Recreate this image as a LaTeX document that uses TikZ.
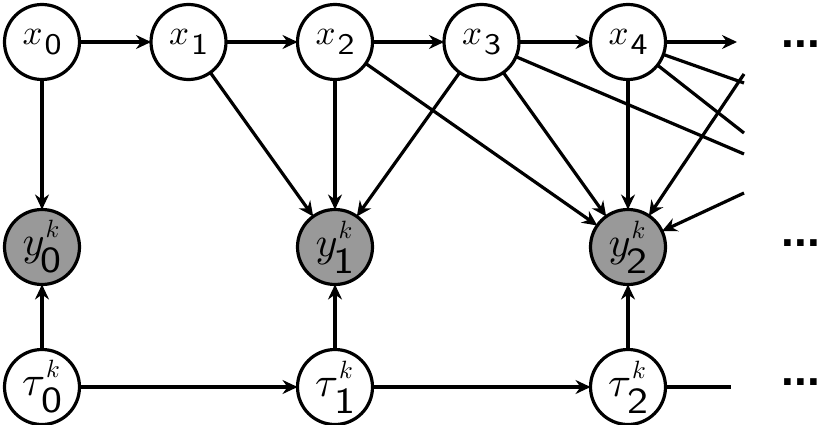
\documentclass[tikz,border=0pt]{standalone}
\usepackage{graphicx}
\usepackage{fontspec}
\usepackage{tikz}
\usetikzlibrary{arrows.meta}
\usetikzlibrary{positioning}
\newfontfamily\dotsfont{Liberation Sans}
\newcommand{\mvar}[2]{\scalebox{#1}{$#2$}}
\newcommand{\dig}[2]{\scalebox{1.2}[1]{\fontsize{#1}{#1}\selectfont\sffamily #2}}
\newcommand{\xsub}[1]{\mvar{3.5}{x}\kern2pt\raisebox{-10pt}{\dig{30}{#1}}}
\newcommand{\ysub}[1]{\mvar{4.2}{y}\rlap{\kern1pt\raisebox{18pt}{\mvar{2.5}{k}}}%
  \kern-4pt\raisebox{-17pt}{\dig{37}{#1}}}
\newcommand{\tsub}[1]{\mvar{4.2}{\tau}\rlap{\kern1pt\raisebox{18pt}{\mvar{2.5}{k}}}%
  \kern-4pt\raisebox{-17pt}{\dig{37}{#1}}}
\tikzset{
  var/.style={circle, draw, fill=white, minimum size=75pt, inner sep=0pt, outer sep=0pt},
  obs/.style={var, fill=black!40},
  more/.style={anchor=base west, inner sep=0pt, font=\dotsfont\bfseries\fontsize{46}{46}\selectfont}
}

\begin{document}
\begin{tikzpicture}[x=1pt, y=1pt, line width=3.2pt,
    >={Stealth[length=15pt, width=14pt, inset=5pt]}]
    \useasboundingbox (0,0) rectangle (818,-425);

      % hidden chain
      \node[var] (x0) at (42,-42) {\xsub{0}};
      \node[var] (x1) [right=71.5pt of x0] {\xsub{1}};
      \node[var] (x2) [right=71.5pt of x1] {\xsub{2}};
      \node[var] (x3) [right=71.5pt of x2] {\xsub{3}};
      \node[var] (x4) [right=71.5pt of x3] {\xsub{4}};

      \node[obs] (y0) [below=130pt of x0] {\ysub{0}};
      \node[obs] (y1) [below=130pt of x2] {\ysub{1}};
      \node[obs] (y2) [below=130pt of x4] {\ysub{2}};

      \node[var] (t0) [below=65pt of y0] {\tsub{0}};
      \node[var] (t1) [below=65pt of y1] {\tsub{1}};
      \node[var] (t2) [below=65pt of y2] {\tsub{2}};

      % loose ends on the right
      \coordinate (xe) at (737,-42);
      \coordinate (te) at (731,-387);
      \coordinate (a1) at (744,-83);
      \coordinate (a2) at (744,-133);
      \coordinate (a3) at (744,-154);
      \coordinate (b1) at (744,-74);
      \coordinate (b2) at (744,-193);

      \node[more] (d0) at (780,-48) {...};
      \node[more] (d1) at (780,-246) {...};
      \node[more] (d2) at (780,-385) {...};

      \draw[->] (x0) -- (x1);
      \draw[->] (x1) -- (x2);
      \draw[->] (x2) -- (x3);
      \draw[->] (x3) -- (x4);
      \draw[->] (x4) -- (xe);

      \draw[->] (x0) -- (y0);
      \draw[->] (x1) -- (y1);
      \draw[->] (x2) -- (y1);
      \draw[->] (x3) -- (y1);
      \draw[->] (x2) -- (y2);
      \draw[->] (x3) -- (y2);
      \draw[->] (x4) -- (y2);
      \draw (x4) -- (a1);
      \draw (x4) -- (a2);
      \draw (x3) -- (a3);
      \draw[->] (b1) -- (y2);
      \draw[->] (b2) -- (y2);

      \draw[->] (t0) -- (y0);
      \draw[->] (t1) -- (y1);
      \draw[->] (t2) -- (y2);
      \draw[->] (t0) -- (t1);
      \draw[->] (t1) -- (t2);
      \draw (t2) -- (te);
\end{tikzpicture}
\end{document}
